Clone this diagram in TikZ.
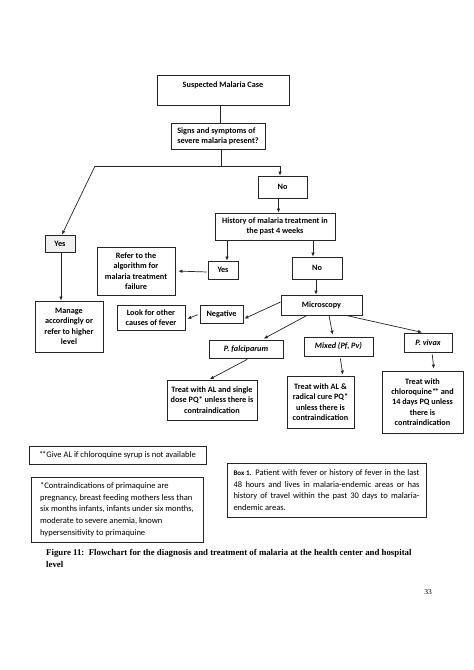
\documentclass[tikz,border=0pt]{standalone}
\usepackage{fontspec}
\setmainfont{Carlito}
\newfontfamily\capfont{Liberation Serif}
\usetikzlibrary{shadows,arrows.meta}
\newcommand{\dstar}{*\kern-1.2pt*}
\begin{document}
\begin{tikzpicture}[x=1pt,y=-1pt,
  box/.style={draw=black!85, line width=0.8pt, fill=white, inner sep=0pt, align=center,
    font=\bfseries\fontsize{8.2}{10.3}\selectfont,
    drop shadow={shadow xshift=1.3pt, shadow yshift=-1.3pt, fill=black!60, opacity=0.8}},
  note/.style={box, font=\fontsize{8.5}{11.7}\selectfont},
  ln/.style={draw=black!85, line width=0.7pt},
  arr/.style={ln, -{Latex[length=4pt,width=3.5pt]}},
  lbl/.style={inner sep=0pt, font=\bfseries\fontsize{8.2}{10.3}\selectfont}]
\useasboundingbox[fill=white] (0,0) rectangle (474,670);

% boxes
\node[box, minimum width=132pt, minimum height=30pt] (susp) at (223,90) {};
\node[lbl] (susptxt) at (223,85) {Suspected Malaria Case};
\node[box, align=left, minimum width=94pt, minimum height=26pt] (signs) at (218,136) {Signs and symptoms of\\severe malaria present?};
\node[box, fill=black!6, minimum width=30pt, minimum height=17pt] (yesL) at (60,243.5) {Yes};
\node[box, minimum width=68pt, minimum height=51pt] (manage) at (69,326.5) {Manage\\accordingly or\\refer to higher\\level};
\node[box, minimum width=49pt, minimum height=22pt] (no1) at (282.5,187) {No};
\node[box, minimum width=120pt, minimum height=27pt] (hist) at (275,226.5) {History of malaria treatment in\\the past 4 weeks};
\node[box, minimum width=30pt, minimum height=18pt] (yesM) at (223,270) {Yes};
\node[box, minimum width=78pt, minimum height=48pt] (refer) at (136,271) {Refer to the\\algorithm for\\malaria treatment\\failure};
\node[box, minimum width=50pt, minimum height=22pt] (no2) at (317,268) {No};
\node[box, minimum width=81pt, minimum height=20pt] (micro) at (321.5,305) {Microscopy};
\node[box, minimum width=43pt, minimum height=18pt] (neg) at (221.5,314) {Negative};
\node[box, minimum width=68pt, minimum height=25pt] (look) at (151,317.5) {Look for other\\causes of fever};
\node[box, minimum width=74pt, minimum height=18pt] (pf) at (246,349) {\itshape P. falciparum};
\node[box, minimum width=69pt, minimum height=19pt] (mixed) at (338.5,346.5) {\itshape Mixed (Pf, Pv)};
\node[box, minimum width=48pt, minimum height=19pt] (pv) at (428,342.5) {\itshape P. vivax};
\node[box, minimum width=90pt, minimum height=40pt] (tal) at (212,400) {Treat with AL and single\\dose PQ* unless there is\\contraindication};
\node[box, minimum width=67pt, minimum height=52pt] (tar) at (320.5,402) {Treat with AL \&\\radical cure PQ*\\unless there is\\contraindication};
\node[box, minimum width=81pt, minimum height=62pt] (tcq) at (422.5,402) {Treat with\\chloroquine\dstar{} and\\14 days PQ unless\\there is\\contraindication};

% notes
\node[note, minimum width=177pt, minimum height=18pt] (give) at (117.5,455) {\dstar Give AL if chloroquine syrup is not available};
\node[note, align=left, minimum width=172pt, minimum height=65pt] (contra) at (117,509.5) {*Contraindications of primaquine are\\pregnancy, breast feeding mothers less than\\six months infants, infants under six months,\\moderate to severe anemia, known\\hypersensitivity to primaquine};
\node[note, align=left, minimum width=199pt, minimum height=54pt] (box1) at (326.5,490) {\makebox[186pt][s]{{\bfseries\fontsize{7}{11.7}\selectfont Box 1.} Patient with fever or history of fever in the last}\\\makebox[186pt][s]{48 hours and lives in malaria-endemic areas or has}\\\makebox[186pt][s]{history of travel within the past 30 days to malaria-}\\endemic areas.};

% caption and page number
\node[inner sep=0pt, anchor=base west, font=\capfont\bfseries\fontsize{8.8}{11.5}\selectfont, align=left] (cap) at (46,567) {Figure 11:\ \ Flowchart for the diagnosis and treatment of malaria at the health center and hospital\\level};
\node[inner sep=0pt, anchor=base, font=\capfont\fontsize{7.5}{8}\selectfont] (page) at (428,594) {33};

% connectors
\draw[ln] (susp.south -| signs.north) ++(2,0) coordinate (s1) -- (s1 |- signs.north);
\coordinate (jL) at (95,166);
\coordinate (jR) at (280,166);
\draw[ln] ([xshift=3pt]signs.south) -- ([xshift=3pt]signs.south |- jL);
\draw[ln] (jL) -- (jR);
\draw[arr] (jR) -- (jR |- no1.north);
\draw[arr] (jL) -- ([xshift=2pt]yesL.north);
\draw[arr] ([xshift=1pt]yesL.south) -- ([xshift=1pt]yesL.south |- manage.north);
\draw[arr] ([xshift=-4pt]no1.south) -- ([xshift=-4pt]no1.south |- hist.north);
\draw[arr] ([xshift=4pt]yesM.north |- hist.south) -- ([xshift=4pt]yesM.north);
\draw[arr] ([xshift=-4pt]no2.north |- hist.south) -- ([xshift=-4pt]no2.north);
\draw[arr, shorten <=1pt, shorten >=3pt] ([yshift=-2pt]yesM.west) -- (refer.east);
\draw[arr] ([xshift=-1pt]no2.south) -- ([xshift=-1pt]no2.south |- micro.north);
\draw[arr, shorten >=1pt] ([yshift=3pt]micro.west) -- ([yshift=-5pt]neg.east);
\draw[arr, shorten <=2pt, shorten >=2pt] (neg.west) -- ([yshift=-2pt]look.east);
\draw[arr, shorten >=2pt] ([xshift=-14.5pt]micro.south) -- ([xshift=16pt]pf.north);
\draw[arr, shorten >=2pt] ([xshift=7.5pt]micro.south) -- ([xshift=-5.5pt]mixed.north);
\draw[arr, shorten >=1pt] ([xshift=24.5pt]micro.south) -- ([xshift=-5pt]pv.north);
\draw[arr, shorten <=2pt, shorten >=1pt] ([xshift=3pt]pf.south) -- ([xshift=-3pt]tal.north);
\draw[arr, shorten <=2pt, shorten >=1pt] ([xshift=1.5pt]mixed.south) -- ([xshift=22.5pt]tar.north);
\draw[arr, shorten <=2pt, shorten >=2pt] ([xshift=4pt]pv.south) -- ([xshift=11.5pt]tcq.north);
\end{tikzpicture}
\end{document}
